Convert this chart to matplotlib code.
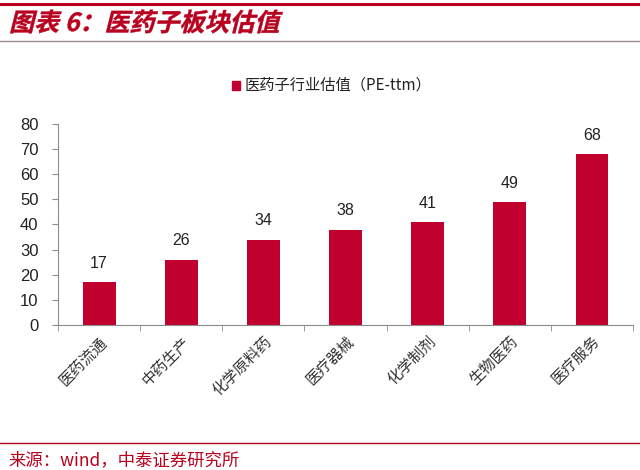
import matplotlib.pyplot as plt
from matplotlib.lines import Line2D
from matplotlib.patches import Rectangle, PathPatch
from matplotlib.textpath import TextPath
from matplotlib.font_manager import FontProperties
from matplotlib.transforms import Affine2D

plt.rcParams['font.family'] = ['Noto Sans CJK SC', 'DejaVu Sans']

# 数据
categories = ["医药流通", "中药生产", "化学原料药", "医疗器械", "化学制剂", "生物医药", "医疗服务"]
values = [17, 26, 34, 38, 41, 49, 68]
labels = ["17", "26", "34", "38", "41", "49", "68"]
yticks = [0, 10, 20, 30, 40, 50, 60, 70, 80]

red = "#C0002F"
gray = "#8c8c8c"
W, H = 640, 470

fig = plt.figure(figsize=(6.4, 4.7), dpi=100)

# 顶部红线、标题下灰线、底部红线
fig.add_artist(Line2D([0, 1], [1 - 4/H, 1 - 4/H], color="#B8001F", lw=2.2))
fig.add_artist(Line2D([0, 1], [1 - 41/H, 1 - 41/H], color="#9a8a8a", lw=1.0))
fig.add_artist(Line2D([0, 1], [1 - 443/H, 1 - 443/H], color="#B8001F", lw=1.0))

# 标题（斜体效果用倾斜变换）
tp = TextPath((0, 0), "图表 6：医药子板块估值", size=25,
              prop=FontProperties(family="Noto Sans CJK SC", weight="bold"))
tr = Affine2D().skew_deg(14, 0).translate(9, H - 31)
fig.add_artist(PathPatch(tr.transform_path(tp), color="#B8001F", lw=0.3,
                         transform=None))

fig.text(8/W, 1 - 460/H, "来源：wind，中泰证券研究所", color="#B8001F", fontsize=12.5,
         va="center", ha="left")

ax = fig.add_axes([58/W, 1 - 325/H, 575/W, 201/H])
x = list(range(len(categories)))
ax.bar(x, values, width=0.4, color=red, zorder=2)
for xi, v, lab in zip(x, values, labels):
    ax.text(xi, v + 4.5, lab, ha="center", va="bottom", fontsize=11.5,
            family=["Liberation Sans", "DejaVu Sans"], color="#222222")

ax.set_xlim(-0.5, 6.5)
ax.set_ylim(0, 80)
ax.set_yticks(yticks)
ax.set_yticklabels([str(t) for t in yticks], family=["Liberation Sans", "DejaVu Sans"],
                   fontsize=12, color="#222222")
ax.set_xticks(x)
ax.set_xticklabels(categories, rotation=45, ha="right", rotation_mode="anchor",
                   fontsize=11, color="#333333")
ax.tick_params(axis="x", length=0, pad=6)
ax.set_xticks([i - 0.5 for i in range(len(categories) + 1)], minor=True)
ax.tick_params(axis="x", which="minor", length=4, color=gray)
ax.tick_params(axis="y", length=4, color=gray, pad=10)
for s in ["top", "right"]:
    ax.spines[s].set_visible(False)
for s in ["left", "bottom"]:
    ax.spines[s].set_color(gray)
    ax.spines[s].set_linewidth(0.8)

# 图例
fig.add_artist(Rectangle((232/W, 1 - 90/H), 8/W, 9/H, color=red,
                         transform=fig.transFigure))
fig.text(245/W, 1 - 85/H, "医药子行业估值（PE-ttm）", fontsize=11, color="#222222",
         va="center", ha="left")

plt.savefig("out.png", dpi=100)
